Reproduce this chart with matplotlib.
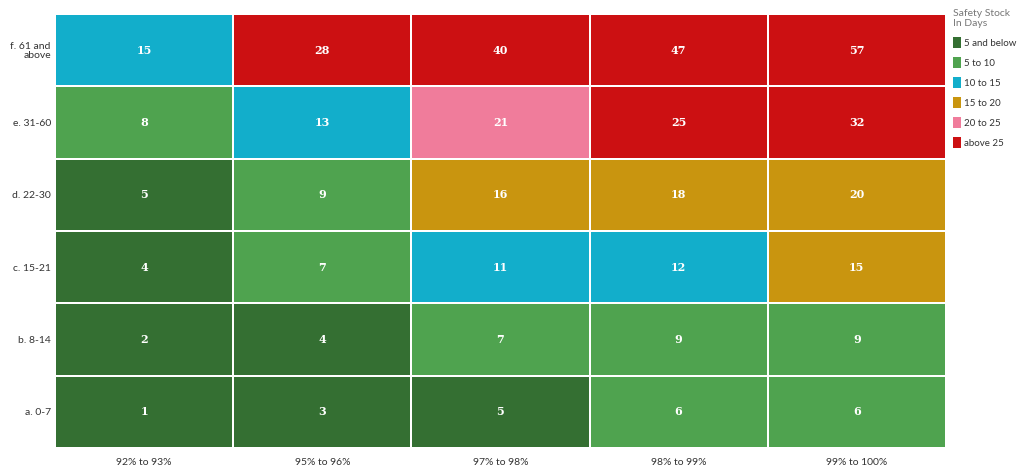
import numpy as np
import matplotlib.pyplot as plt
from matplotlib.colors import ListedColormap, BoundaryNorm
from matplotlib.patches import Patch

service_levels = ['92% to 93%', '95% to 96%', '97% to 98%', '98% to 99%', '99% to 100%']
lead_times = ['a. 0-7', 'b. 8-14', 'c. 15-21', 'd. 22-30', 'e. 31-60', 'f. 61 and above']

# safety stock in days, rows follow lead_times (bottom to top)
stock_days = np.array([
    [1, 3, 5, 6, 6],
    [2, 4, 7, 9, 9],
    [4, 7, 11, 12, 15],
    [5, 9, 16, 18, 20],
    [8, 13, 21, 25, 32],
    [15, 28, 40, 47, 57],
])
# band index of each cell as coloured in the source (0 = "5 and below" ... 5 = "above 25")
band = np.array([
    [0, 0, 0, 1, 1],
    [0, 0, 1, 1, 1],
    [0, 1, 2, 2, 3],
    [0, 1, 3, 3, 3],
    [1, 2, 4, 5, 5],
    [2, 5, 5, 5, 5],
])
band_labels = ['5 and below', '5 to 10', '10 to 15', '15 to 20', '20 to 25', 'above 25']
band_colors = ['#346F32', '#4FA34F', '#12AECB', '#C9950F', '#F07C9B', '#CC1012']

plt.rcParams['font.family'] = ['Lato', 'DejaVu Sans']

fig = plt.figure(figsize=(10.24, 4.72), dpi=100)
ax = fig.add_axes([0.0537, 0.051, 0.870, 0.919])

cmap = ListedColormap(band_colors)
norm = BoundaryNorm(np.arange(-0.5, len(band_colors) + 0.5), cmap.N)
ax.pcolormesh(band, cmap=cmap, norm=norm, edgecolors='white', linewidth=1.1)

for i in range(stock_days.shape[0]):
    for j in range(stock_days.shape[1]):
        ax.text(j + 0.5, i + 0.5, str(stock_days[i, j]), ha='center', va='center',
                color='white', fontsize=8, fontweight='bold', family='DejaVu Serif')

ax.set_xlim(0, len(service_levels))
ax.set_ylim(0, len(lead_times))
ax.set_xticks(np.arange(len(service_levels)) + 0.5)
ax.set_xticklabels(service_levels, fontsize=7.5, color='#333333')
ax.set_yticks(np.arange(len(lead_times)) + 0.5)
# the longest label does not fit beside the grid, so it goes on two lines
ax.set_yticklabels([t.replace(' and ', ' and\n') for t in lead_times],
                   fontsize=7.5, color='#333333', linespacing=1.0)
ax.tick_params(length=0, pad=3)
ax.tick_params(axis='x', pad=7)
for s in ax.spines.values():
    s.set_visible(False)

handles = [Patch(facecolor=c, label=l) for c, l in zip(band_colors, band_labels)]
leg = fig.legend(handles=handles, title='Safety Stock\nIn Days', loc='upper left',
                 bbox_to_anchor=(0.929, 0.985), frameon=False, fontsize=7,
                 title_fontsize=7.5, handlelength=0.75, handleheight=1.4,
                 handletextpad=0.35, labelspacing=0.9, alignment='left',
                 borderaxespad=0, borderpad=0.2)
leg.get_title().set_color('#777777')
for t in leg.get_texts():
    t.set_color('#333333')

fig.savefig('out.png', dpi=100)
